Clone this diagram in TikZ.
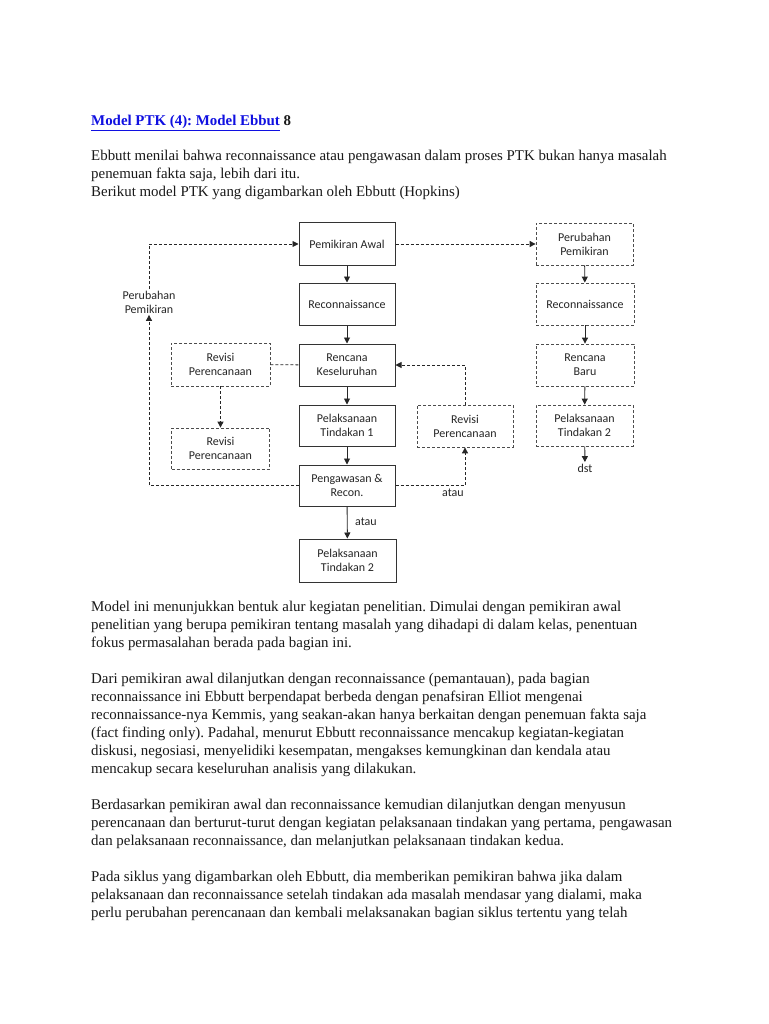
\documentclass[tikz,border=0pt]{standalone}
\usepackage{fontspec}
\setmainfont{Liberation Serif}
\newfontfamily\diagfont{Carlito}
\usetikzlibrary{arrows.meta}
\definecolor{linkblue}{RGB}{16,16,225}
\frenchspacing
\begin{document}
\begin{tikzpicture}[x=1pt,y=-1pt,
  box/.style={draw=black!80, line width=1pt, minimum width=96pt, minimum height=42pt,
    align=center, font=\diagfont\fontsize{12}{14}\selectfont, text=black!85, inner sep=1pt},
  dbox/.style={box, dash pattern=on 3pt off 2pt, draw=black!70, line width=0.8pt},
  lbl/.style={font=\diagfont\fontsize{12}{14}\selectfont, text=black!85, align=center, inner sep=1.5pt},
  arr/.style={-{Triangle[length=6pt,width=6pt]}, line width=0.9pt, draw=black!85},
  darr/.style={arr, dash pattern=on 3pt off 2pt},
  dline/.style={line width=0.9pt, draw=black!85, dash pattern=on 3pt off 2pt},
  txt/.style={anchor=base west, inner sep=0pt, font=\fontsize{14.9}{18}\selectfont, text=black!90},
]
\useasboundingbox[fill=white] (0,0) rectangle (768,1024);

% ---- heading and first paragraph
\node[txt] (t0) at (91,126) {\bfseries\textcolor{linkblue}{\underline{Model PTK (4): Model Ebbut}} 8};
\node[txt] (a1) at (91,161) {Ebbutt menilai bahwa reconnaissance atau pengawasan dalam proses PTK bukan hanya masalah};
\node[txt] (a2) at (91,179) {penemuan fakta saja, lebih dari itu.};
\node[txt] (a3) at (91,197) {Berikut model PTK yang digambarkan oleh Ebbutt (Hopkins)};

% ---- diagram
\node[box] (awal) at (347,244) {Pemikiran Awal};
\node[box] (rec) at (347,304) {Reconnaissance};
\node[box] (rk) at (347,365) {Rencana\\Keseluruhan};
\node[box, minimum height=41pt] (pt1) at (347,425.5) {Pelaksanaan\\Tindakan 1};
\node[box, minimum height=41pt] (peng) at (347,485.5) {Pengawasan \&\\Recon.};
\node[box, minimum height=43pt, minimum width=97pt] (pt2) at (347.5,560.5) {Pelaksanaan\\Tindakan 2};

\node[dbox, minimum width=99pt, minimum height=43pt] (rl) at (220.5,364.5) {Revisi\\Perencanaan};
\node[dbox, minimum width=98pt, minimum height=41pt] (rl2) at (220.5,448.5) {Revisi\\Perencanaan};
\node[dbox] (rm) at (465,426) {Revisi\\Perencanaan};

\node[dbox, minimum width=97pt] (pp) at (584.5,244) {Perubahan\\Pemikiran};
\node[dbox, minimum width=98pt] (rr) at (585,304) {Reconnaissance};
\node[dbox, minimum width=98pt] (rb) at (585,365) {Rencana\\Baru};
\node[dbox, minimum width=97pt, minimum height=41pt] (pt2r) at (584.5,425.5) {Pelaksanaan\\Tindakan 2};
\node[lbl] (dst) at (585,468) {dst};

\node[lbl] (perlab) at (149,302) {Perubahan\\Pemikiran};
\node[lbl] (atau1) at (366,522) {atau};
\node[lbl] (atau2) at (453,493) {atau};

% main column
\draw[arr] (awal) -- (rec);
\draw[arr] (rec) -- (rk);
\draw[arr] (rk) -- (pt1);
\draw[arr] (pt1) -- (peng);
\draw[arr] (peng) -- (pt2);

% right column
\draw[darr] (awal) -- (pp);
\draw[arr] (pp) -- (rr);
\draw[arr] (rr) -- (rb);
\draw[arr] (rb) -- (pt2r);
\draw[arr] (pt2r) -- (dst);

% left revisions
\draw[dline] (rl) -- (rk);
\draw[darr] (rl) -- (rl2);

% left loop
\draw[darr] (peng.west) -| (perlab.south);
\draw[darr] (perlab.north) |- (awal.west);

% middle revision loop
\draw[darr] (peng.east) -| (rm.south);
\draw[darr] (rm.north) |- (rk.east);

% ---- text paragraphs
\node[txt] (b1) at (91,611) {Model ini menunjukkan bentuk alur kegiatan penelitian. Dimulai dengan pemikiran awal};
\node[txt] (b2) at (91,629) {penelitian yang berupa pemikiran tentang masalah yang dihadapi di dalam kelas, penentuan};
\node[txt] (b3) at (91,647) {fokus permasalahan berada pada bagian ini.};

\node[txt] (c1) at (91,683) {Dari pemikiran awal dilanjutkan dengan reconnaissance (pemantauan), pada bagian};
\node[txt] (c2) at (91,701) {reconnaissance ini Ebbutt berpendapat berbeda dengan penafsiran Elliot mengenai};
\node[txt] (c3) at (91,719) {reconnaissance-nya Kemmis, yang seakan-akan hanya berkaitan dengan penemuan fakta saja};
\node[txt] (c4) at (91,737) {(fact finding only). Padahal, menurut Ebbutt reconnaissance mencakup kegiatan-kegiatan};
\node[txt] (c5) at (91,755) {diskusi, negosiasi, menyelidiki kesempatan, mengakses kemungkinan dan kendala atau};
\node[txt] (c6) at (91,773) {mencakup secara keseluruhan analisis yang dilakukan.};

\node[txt] (d1) at (91,809) {Berdasarkan pemikiran awal dan reconnaissance kemudian dilanjutkan dengan menyusun};
\node[txt] (d2) at (91,827) {perencanaan dan berturut-turut dengan kegiatan pelaksanaan tindakan yang pertama, pengawasan};
\node[txt] (d3) at (91,845) {dan pelaksanaan reconnaissance, dan melanjutkan pelaksanaan tindakan kedua.};

\node[txt] (e1) at (91,881) {Pada siklus yang digambarkan oleh Ebbutt, dia memberikan pemikiran bahwa jika dalam};
\node[txt] (e2) at (91,899) {pelaksanaan dan reconnaissance setelah tindakan ada masalah mendasar yang dialami, maka};
\node[txt] (e3) at (91,917) {perlu perubahan perencanaan dan kembali melaksanakan bagian siklus tertentu yang telah};
\end{tikzpicture}
\end{document}
